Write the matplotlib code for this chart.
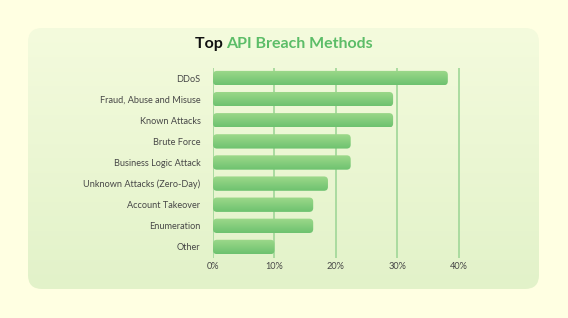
import numpy as np
import matplotlib
matplotlib.use("Agg")
import matplotlib.pyplot as plt
from matplotlib.patches import FancyBboxPatch
from matplotlib.colors import LinearSegmentedColormap

# data
methods = ["DDoS", "Fraud, Abuse and Misuse", "Known Attacks", "Brute Force",
           "Business Logic Attack", "Unknown Attacks (Zero-Day)",
           "Account Takeover", "Enumeration", "Other"]
shares = [38.2, 29.3, 29.3, 22.4, 22.4, 18.7, 16.3, 16.3, 10.0]
x_ticks = [0, 10, 20, 30, 40]
x_tick_labels = ["0%", "10%", "20%", "30%", "40%"]

W, H, DPI = 568, 318, 100
plt.rcParams["font.family"] = ["Lato", "DejaVu Sans"]

fig = plt.figure(figsize=(W / DPI, H / DPI), dpi=DPI)
fig.patch.set_facecolor("#ffffe2")

# card with vertical gradient and rounded corners
bg = fig.add_axes([0, 0, 1, 1])
bg.set_xlim(0, W)
bg.set_ylim(H, 0)
bg.axis("off")
card = FancyBboxPatch((28, 28), 511, 261, boxstyle="round,pad=0,rounding_size=14",
                      facecolor="none", edgecolor="none")
bg.add_patch(card)
card_cmap = LinearSegmentedColormap.from_list("card", ["#f4fbdd", "#e2f2c9"])
grad = np.linspace(0, 1, 256).reshape(-1, 1)
im = bg.imshow(grad, cmap=card_cmap, extent=[28, 539, 289, 28], aspect="auto",
               interpolation="bicubic")
im.set_clip_path(card)

# title in two colours, centred as a whole
t1 = fig.text(0, 1 - 44 / H, "Top ", ha="left", va="center", fontsize=11.5,
              fontweight="bold", color="#111111")
t2 = fig.text(0, 1 - 44 / H, "API Breach Methods", ha="left", va="center",
              fontsize=11.5, fontweight="bold", color="#5cbd68")
fig.canvas.draw()
r = fig.canvas.get_renderer()
w1 = t1.get_window_extent(r).width
w2 = t2.get_window_extent(r).width
start = (W - (w1 + w2)) / 2
t1.set_x(start / W)
t2.set_x((start + w1) / W)

ax = fig.add_axes([213 / W, 1 - 257.5 / H, 246.5 / W, 190 / H])
ax.set_facecolor("none")
n = len(methods)

for x in x_ticks:
    ax.axvline(x, color="#a5d99c", lw=1.3, zorder=1)

px_x = 40.1 / 246.5
px_y = n / 190
bar_h = 0.68
bar_cmap = LinearSegmentedColormap.from_list("bar", ["#9ed98b", "#6dc26f"])
for i, v in enumerate(shares):
    p = FancyBboxPatch((0, i - bar_h / 2), v, bar_h,
                       boxstyle="round,pad=0,rounding_size=%f" % (4 * px_x),
                       mutation_aspect=px_y / px_x, facecolor="none",
                       edgecolor="none", zorder=2)
    ax.add_patch(p)
    b = ax.imshow(grad, cmap=bar_cmap, extent=[0, v, i + bar_h / 2, i - bar_h / 2],
                  aspect="auto", interpolation="bicubic", zorder=2)
    b.set_clip_path(p)

ax.set_xlim(0, 40.1)
ax.set_ylim(n - 0.5, -0.5)
ax.set_xticks(x_ticks)
ax.set_xticklabels(x_tick_labels)
ax.set_yticks(range(n))
ax.set_yticklabels(methods)
ax.tick_params(axis="both", length=0, labelsize=6.6, colors="#474747")
ax.tick_params(axis="y", pad=9)
ax.tick_params(axis="x", pad=3)
for s in ax.spines.values():
    s.set_visible(False)

fig.savefig("out.png", dpi=DPI, facecolor=fig.get_facecolor())
